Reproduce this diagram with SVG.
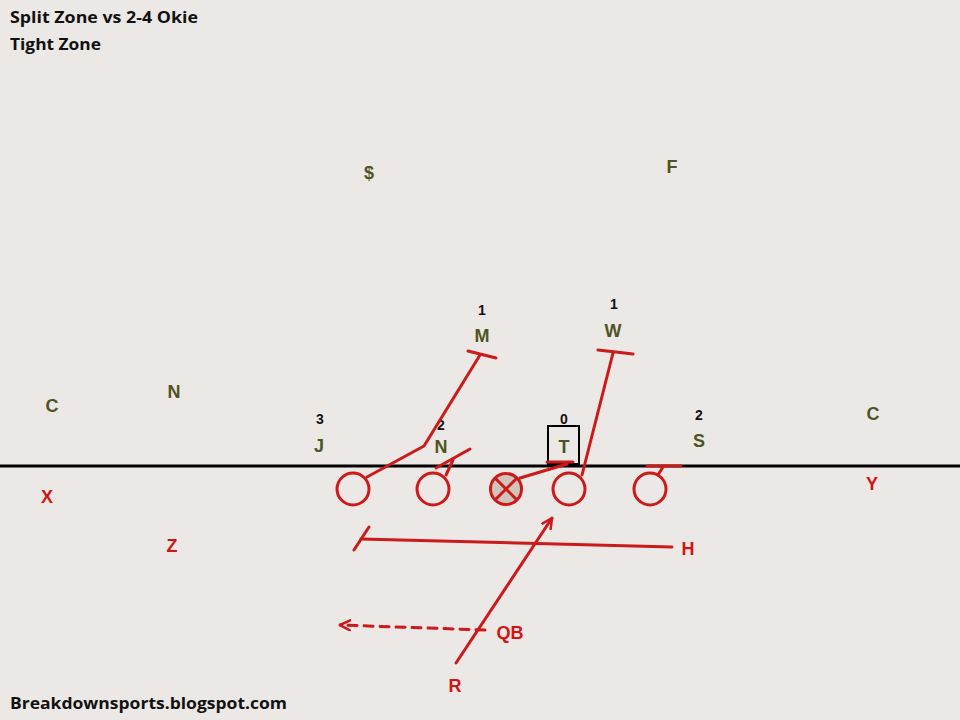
<svg xmlns="http://www.w3.org/2000/svg" width="960" height="720" viewBox="0 0 960 720">
<style>
.t{font-family:"Open Sans","Liberation Sans",sans-serif;font-weight:bold;fill:#111;}
.d{font-family:"Liberation Sans",sans-serif;font-weight:bold;font-size:18px;fill:#4e5422;text-anchor:middle;}
.o{font-family:"Liberation Sans",sans-serif;font-weight:bold;font-size:18px;fill:#d21414;text-anchor:middle;}
.n{font-family:"Liberation Sans",sans-serif;font-weight:bold;font-size:14px;fill:#111;text-anchor:middle;}
.r{stroke:#cc1a1a;stroke-width:3;fill:none;stroke-linecap:round;stroke-linejoin:round;}
.c{stroke:#cc1a1a;stroke-width:3;fill:none;}
</style>
<defs>
<marker id="ah" viewBox="0 0 12 12" refX="11" refY="6" markerWidth="12" markerHeight="12" markerUnits="userSpaceOnUse" orient="auto">
<path d="M1,1 L11,6 L1,11" fill="none" stroke="#cc1a1a" stroke-width="2.5" stroke-linecap="round"/>
</marker>
</defs>
<rect width="960" height="720" fill="#ebe8e6"/>
<g id="title">
<text class="t" x="10" y="23" font-size="15.5" textLength="188" lengthAdjust="spacingAndGlyphs">Split Zone vs 2-4 Okie</text>
<text class="t" x="10" y="50" font-size="15.5" textLength="91" lengthAdjust="spacingAndGlyphs">Tight Zone</text>
<text class="t" x="10" y="709" font-size="15.5" textLength="277" lengthAdjust="spacingAndGlyphs">Breakdownsports.blogspot.com</text>
</g>
<g id="los"><line x1="0" y1="466" x2="960" y2="466" stroke="#000" stroke-width="3"/></g>
<g id="defense">
<g id="def-safety-dollar"><text class="d" x="369" y="179">$</text></g>
<g id="def-F"><text class="d" x="672" y="173">F</text></g>
<g id="def-M"><text class="n" x="482" y="315">1</text><text class="d" x="482" y="342">M</text></g>
<g id="def-W"><text class="n" x="614" y="309">1</text><text class="d" x="613" y="337">W</text></g>
<g id="def-J"><text class="n" x="320" y="424">3</text><text class="d" x="319" y="452">J</text></g>
<g id="def-N-inside"><text class="n" x="441" y="430">2</text><text class="d" x="441" y="453">N</text></g>
<g id="def-T"><text class="n" x="564" y="424">0</text><rect x="548" y="426" width="31" height="38" fill="none" stroke="#000" stroke-width="2"/><text class="d" x="564" y="453">T</text></g>
<g id="def-S"><text class="n" x="699" y="420">2</text><text class="d" x="699" y="447">S</text></g>
<g id="def-C-left"><text class="d" x="52" y="412">C</text></g>
<g id="def-N-outside"><text class="d" x="174" y="398">N</text></g>
<g id="def-C-right"><text class="d" x="873" y="420">C</text></g>
</g>
<g id="offense">
<g id="ol-1"><circle class="c" cx="353" cy="489" r="16"/></g>
<g id="ol-2"><circle class="c" cx="433" cy="489" r="16"/></g>
<g id="ol-center"><circle cx="506" cy="489" r="15.5" fill="#cfc5bb" stroke="#cc1a1a" stroke-width="3"/><path class="c" d="M495,478 L517,500 M517,478 L495,500"/></g>
<g id="ol-4"><circle class="c" cx="569" cy="489" r="16"/></g>
<g id="ol-5"><circle class="c" cx="650" cy="489" r="16"/></g>
<g id="off-X"><text class="o" x="47" y="503">X</text></g>
<g id="off-Z"><text class="o" x="172" y="552">Z</text></g>
<g id="off-Y"><text class="o" x="872" y="490">Y</text></g>
<g id="off-H"><text class="o" x="688" y="555">H</text></g>
<g id="off-QB"><text class="o" x="510" y="639">QB</text></g>
<g id="off-R"><text class="o" x="455" y="692">R</text></g>
</g>
<g id="connectors">
<polyline class="r" points="367,477 424,446 480,355"/>
<line class="r" x1="468" y1="351" x2="496" y2="358"/>
<polyline class="r" points="446,475 453,460"/>
<line class="r" x1="436" y1="468" x2="470" y2="449"/>
<line class="r" x1="520" y1="478" x2="567" y2="464"/>
<line class="r" x1="547" y1="462" x2="573" y2="462"/>
<line class="r" x1="582" y1="475" x2="613" y2="353"/>
<line class="r" x1="598" y1="350" x2="633" y2="354"/>
<line class="r" x1="658" y1="475" x2="663" y2="467"/>
<line class="r" x1="647" y1="466" x2="681" y2="466"/>
<line class="r" x1="672" y1="547" x2="361" y2="539"/>
<line class="r" x1="369" y1="527" x2="354" y2="550"/>
<line class="r" x1="456" y1="663" x2="552" y2="518" marker-end="url(#ah)"/>
<line class="r" x1="485" y1="630" x2="340" y2="625" stroke-dasharray="9,7" stroke-linecap="butt" marker-end="url(#ah)"/>
</g>
</svg>
